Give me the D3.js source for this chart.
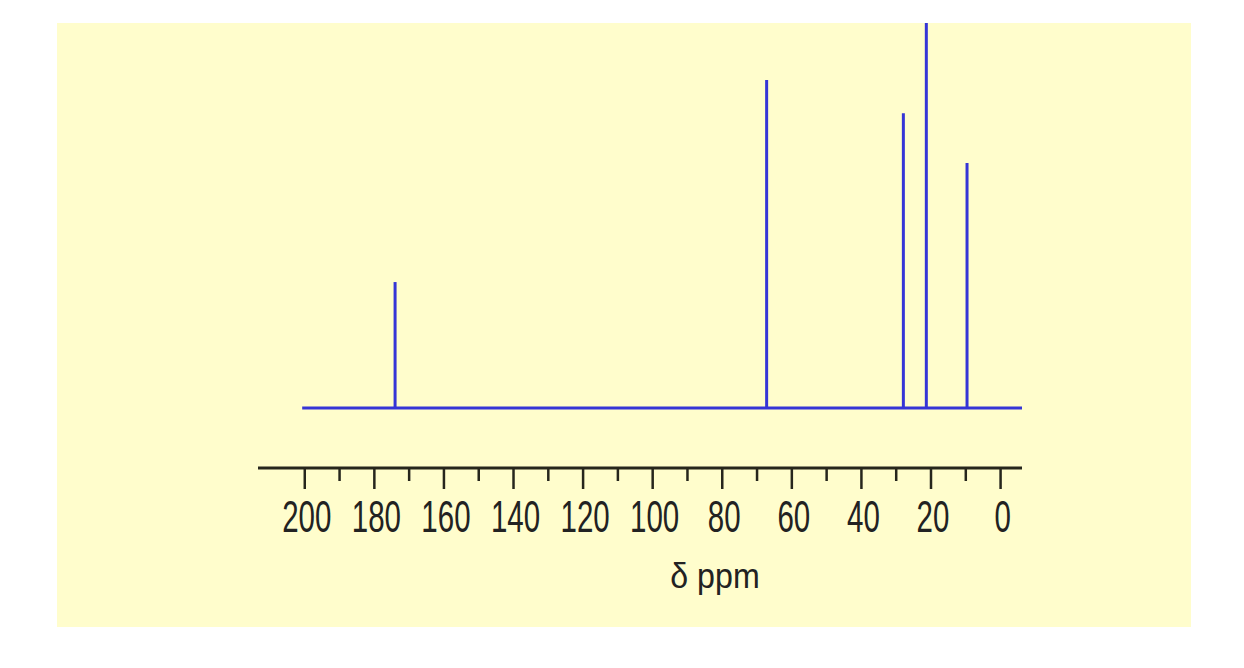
<!DOCTYPE html>
<html>
<head>
<meta charset="utf-8">
<script src="https://cdn.jsdelivr.net/npm/d3@7"></script>
<style>
html,body{margin:0;padding:0;background:#fff;}
svg{display:block;}
</style>
</head>
<body>
<script>
// Data
const peakShifts = [173.9, 67.1, 27.8, 21.2, 9.5];      // δ ppm
const peakIntensities = [38.4, 100, 89.9, 125, 74.7];    // relative
const majorTicks = [200, 180, 160, 140, 120, 100, 80, 60, 40, 20, 0];
const minorTicks = [190, 170, 150, 130, 110, 90, 70, 50, 30, 10];
const baselineRange = [200.6, -6.3];
const axisTitle = "δ ppm";

const W = 1244, H = 668;
const svg = d3.select("body").append("svg").attr("width", W).attr("height", H);

svg.append("defs").append("clipPath").attr("id", "bgclip")
  .append("rect").attr("x", 57).attr("y", 23).attr("width", 1134).attr("height", 604);

svg.append("rect").attr("x", 57).attr("y", 23).attr("width", 1134).attr("height", 604)
  .attr("fill", "#fffdcc");

const x = d3.scaleLinear().domain([213.3, -6.3]).range([258, 1022]);
const baseY = 408;
const y = d3.scaleLinear().domain([0, 100]).range([baseY, 80]);

const blue = "#3535d6";
const plot = svg.append("g").attr("clip-path", "url(#bgclip)");

plot.append("line")
  .attr("x1", x(baselineRange[0])).attr("x2", x(baselineRange[1]))
  .attr("y1", baseY).attr("y2", baseY)
  .attr("stroke", blue).attr("stroke-width", 3);

plot.selectAll("line.peak").data(peakShifts).enter().append("line")
  .attr("class", "peak")
  .attr("x1", d => x(d)).attr("x2", d => x(d))
  .attr("y1", baseY)
  .attr("y2", (d, i) => y(peakIntensities[i]))
  .attr("stroke", blue).attr("stroke-width", 3);

const axisY = 468;
const axisColor = "#26261c";

const minorAxis = d3.axisBottom(x).tickValues(minorTicks).tickSize(13).tickSizeOuter(0).tickFormat("");
const gMinor = svg.append("g").attr("transform", `translate(0,${axisY})`).call(minorAxis);
gMinor.select(".domain").remove();
gMinor.selectAll("line").attr("stroke", axisColor).attr("stroke-width", 2.5);

const majorAxis = d3.axisBottom(x).tickValues(majorTicks).tickSize(21).tickSizeOuter(0).tickFormat(d3.format("d"));
const gMajor = svg.append("g").attr("transform", `translate(0,${axisY})`).call(majorAxis);
gMajor.select(".domain").attr("stroke", axisColor).attr("stroke-width", 3)
  .attr("d", `M${x.range()[0]},0H${x.range()[1]}`);
gMajor.selectAll(".tick line").attr("stroke", axisColor).attr("stroke-width", 2.5);
gMajor.selectAll(".tick text")
  .attr("y", 64).attr("dy", 0)
  .attr("fill", "#222")
  .attr("font-family", "Liberation Sans, Arial, sans-serif")
  .attr("font-size", 44)
  .attr("transform", "translate(2,0) scale(0.67,1)");

svg.append("text")
  .attr("transform", "translate(715,588) scale(0.92,1)")
  .attr("text-anchor", "middle")
  .attr("fill", "#222")
  .attr("font-family", "Liberation Sans, Arial, sans-serif")
  .attr("font-size", 35)
  .text(axisTitle);
</script>
</body>
</html>
